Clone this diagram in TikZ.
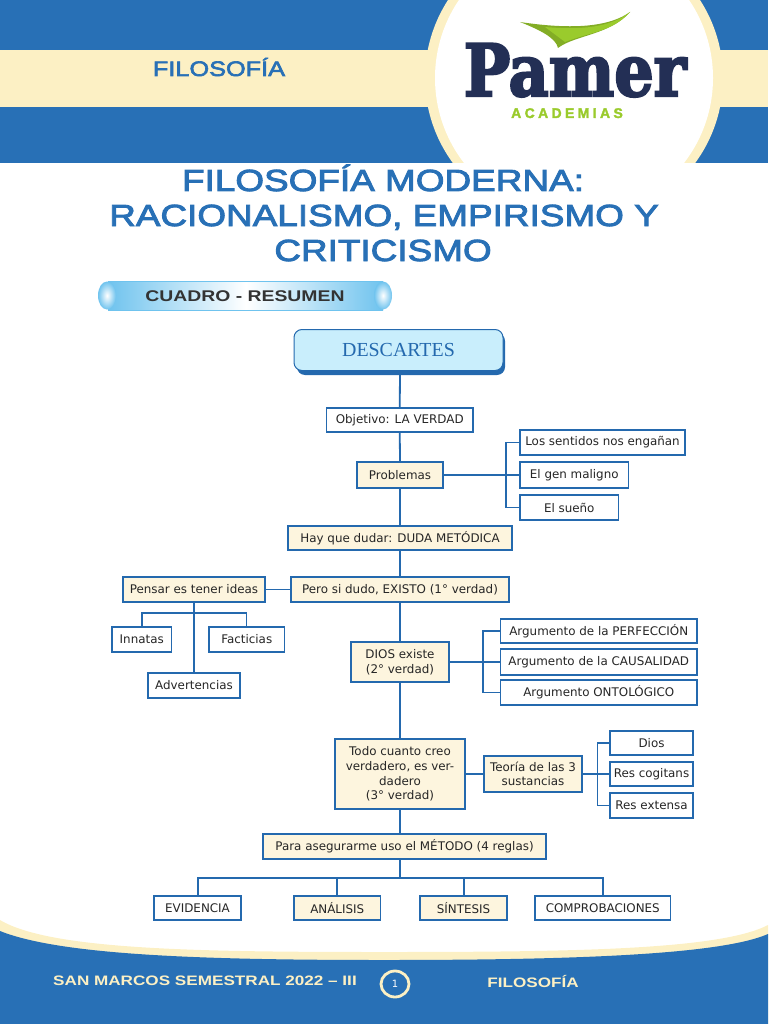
\documentclass[tikz,border=0pt]{standalone}
\usepackage{fontspec}
\setmainfont{DejaVu Sans}
\newfontfamily\titlefont[FakeStretch=1.21,FakeBold=3]{Liberation Sans}
\newfontfamily\footfont[FakeStretch=1.25]{Liberation Sans}
\newfontfamily\logofont[FakeStretch=0.86,FakeBold=3]{DejaVu Serif}
\newfontfamily\acadfont[LetterSpace=24,FakeBold=2]{Liberation Sans}
\newfontfamily\descfont{Liberation Serif}
\usetikzlibrary{calc,shapes.geometric}
\definecolor{pamerblue}{HTML}{2870B6}
\definecolor{pamercream}{HTML}{FCF0C4}
\definecolor{boxcream}{HTML}{FDF5DE}
\definecolor{boxline}{HTML}{2469AE}
\definecolor{skyfill}{HTML}{C9EEFC}
\definecolor{bannerblue}{HTML}{6FC3EE}
\definecolor{logonavy}{HTML}{232F55}
\definecolor{logogreen}{HTML}{9ACB2C}
\tikzset{
  whitebox/.style={draw=boxline,line width=1.7pt,fill=white,inner sep=0pt,font=\fontsize{11.9}{14.6}\selectfont,align=center,text=black!85},
  creambox/.style={whitebox,fill=boxcream},
  link/.style={draw=boxline,line width=1.8pt},
  thinlink/.style={draw=boxline,line width=1.2pt},
  titleline/.style={anchor=base,inner sep=0pt,font=\titlefont\fontsize{30.5}{34}\selectfont,text=pamerblue},
  footline/.style={font=\footfont\bfseries\fontsize{13.7}{14}\selectfont,text=pamercream}
}
% box from its corners: name, left, top, right, bottom, style, text
\newcommand{\boxat}[7]{\node[#6,minimum width=#4pt-#2pt,minimum height=#5pt-#3pt] (#1) at ({(#2+#4)/2},{(#3+#5)/2}) {#7};}
\begin{document}
\begin{tikzpicture}[x=1pt,y=-1pt]
\useasboundingbox (0,0) rectangle (768,1024);
% Header bands
\fill[pamerblue] (0,0) rectangle (768,163);
\fill[pamercream] (0,50) rectangle (768,107);
\begin{scope}
\clip (0,0) rectangle (768,163);
\fill[pamercream] (574,78) ellipse [x radius=149,y radius=146];
\fill[white] (574,78) ellipse [x radius=139,y radius=139];
\end{scope}
\node[font=\titlefont\fontsize{20.9}{21}\selectfont,text=pamerblue] (subject) at (219,67) {FILOSOFÍA};
% Logo
\fill[logogreen!85!black] (520,22) .. controls (560,28) and (605,30) .. (630,12) .. controls (610,35) and (575,35) .. (558,48) .. controls (556,38) and (540,30) .. (520,22) -- cycle;
\fill[logogreen] (545,27) .. controls (580,30) and (610,28) .. (630,12) .. controls (612,32) and (590,32) .. (565,42) -- cycle;
\node[anchor=base,font=\logofont\bfseries\fontsize{72}{72}\selectfont,text=logonavy,inner sep=0pt] (pamer) at (575,96) {Pamer};
\node[anchor=base,font=\acadfont\bfseries\fontsize{14}{15}\selectfont,text=logogreen,inner sep=0pt] (academias) at (567,118) {ACADEMIAS};
% Title
\node[titleline] (titleA) at (383,191) {FILOSOFÍA MODERNA:};
\node[titleline] (titleB) at (384,226) {RACIONALISMO, EMPIRISMO Y};
\node[titleline] (titleC) at (383,261) {CRITICISMO};
% Banner
\shade[left color=bannerblue,right color=white] (108,281) rectangle (246,310);
\shade[right color=bannerblue,left color=white] (246,281) rectangle (383,310);
\draw[bannerblue,line width=1pt] (108,281) -- (383,281) (108,310) -- (383,310);
\shade[inner color=white,outer color=bannerblue] (107,295.5) ellipse [x radius=9,y radius=14];
\shade[inner color=white,outer color=bannerblue] (383,295.5) ellipse [x radius=9,y radius=14];
\node[font=\footfont\bfseries\fontsize{15.5}{15}\selectfont,text=black!80] (banner) at (245,296) {CUADRO - RESUMEN};
% Boxes
\fill[boxline,rounded corners=8pt] (297,333) rectangle (505,375);
\node[draw=boxline,line width=1pt,fill=skyfill,rounded corners=8pt,minimum width=209pt,minimum height=41pt,font=\descfont\fontsize{19.9}{20}\selectfont,text=boxline] (desc) at (398.5,350) {DESCARTES};
\coordinate (objtop) at (400,408);
\coordinate (busP) at (506,475);
\coordinate (busD) at (483,662);
\coordinate (busS) at (597.5,774);
\coordinate (busI) at (194,613);
\coordinate (busM) at (400,878);
\coordinate (dropE) at (198,896);
\coordinate (dropS) at (464,896);
\boxat{obj}{326.5}{408}{473}{432}{whitebox}{Objetivo: LA VERDAD}
\boxat{prob}{357}{462}{443}{488}{creambox}{Problemas}
\boxat{los}{520}{430}{685}{455}{whitebox}{Los sentidos nos engañan}
\boxat{gen}{520}{462}{628.5}{488}{whitebox}{El gen maligno}
\boxat{sueno}{520}{495}{618.5}{520}{whitebox}{El sueño}
\boxat{duda}{288}{526}{512}{550}{creambox}{Hay que dudar: DUDA METÓDICA}
\boxat{pero}{291}{577}{509}{602}{creambox}{Pero si dudo, EXISTO (1° verdad)}
\boxat{pensar}{123}{577}{265}{602}{creambox}{Pensar es tener ideas}
\boxat{innatas}{112}{627}{171.5}{652}{whitebox}{Innatas}
\boxat{facticias}{209}{627}{284.5}{652}{whitebox}{Facticias}
\boxat{advert}{148}{673}{240}{698}{whitebox}{Advertencias}
\boxat{dios}{351}{642}{449}{682}{creambox}{DIOS existe\\(2° verdad)}
\boxat{argp}{500.5}{619}{697}{643}{whitebox}{Argumento de la PERFECCIÓN}
\boxat{argc}{500.5}{649}{697}{675}{whitebox}{Argumento de la CAUSALIDAD}
\boxat{argo}{500.5}{680}{697}{705}{whitebox}{Argumento ONTOLÓGICO}
\boxat{todo}{335}{739}{465}{809}{creambox}{Todo cuanto creo\\verdadero, es ver-\\dadero\\(3° verdad)}
\boxat{teoria}{484}{756}{582}{792}{creambox}{Teoría de las 3\\sustancias}
\boxat{sdios}{610}{731}{693}{755}{whitebox}{Dios}
\boxat{scog}{610}{762}{693}{786}{whitebox}{Res cogitans}
\boxat{sext}{610}{793}{693}{818}{whitebox}{Res extensa}
\boxat{para}{263}{834}{546}{859}{creambox}{Para asegurarme uso el MÉTODO (4 reglas)}
\boxat{evid}{154}{896}{241}{920}{whitebox}{EVIDENCIA}
\boxat{anal}{294}{896}{380.5}{920}{creambox}{ANÁLISIS}
\boxat{sint}{420}{896}{507}{920}{creambox}{SÍNTESIS}
\boxat{comp}{535}{896}{670.5}{920}{whitebox}{COMPROBACIONES}
% Connectors
\draw[link] (desc.south -| objtop) -- (obj.north);
\draw[link] (obj.south) -- (prob.north);
\draw[link] (prob.south) -- (duda.north);
\draw[link] (duda.south) -- (pero.north);
\draw[link] (pero.south) -- (dios.north);
\draw[link] (dios.south) -- (dios.south |- todo.north);
\draw[link] (todo.south) -- (todo.south |- para.north);
\draw[link] (prob.east) -- (busP);
\draw[link] (busP) |- (los.west);
\draw[link] (busP) -- (gen.west);
\draw[link] (busP) |- (sueno.west);
\draw[thinlink] (pensar.east) -- (pero.west);
\draw[link] (pensar.south) -- (advert.north);
\draw[link] (busI) -| (innatas.north);
\draw[thinlink] (busI) -| (facticias.north);
\draw[link] (dios.east) -- (busD);
\draw[link] (busD) |- (argp.west);
\draw[link] (busD) -- (argc.west);
\draw[link] (busD) |- (argo.west);
\draw[link] (todo.east |- teoria.west) -- (teoria.west);
\draw[link] (teoria.east) -- (busS);
\draw[thinlink] (busS) |- (sdios.west);
\draw[link] (busS) -- (scog.west);
\draw[thinlink] (busS) |- (sext.west);
\draw[link] (para.south -| busM) -- (busM);
\draw[link] (busM) -| (dropE);
\draw[link] (busM) -| (anal.north);
\draw[link] (busM) -| (dropS);
\draw[link] (busM) -| (comp.north);
% Footer
\fill[pamercream] (0,920) .. controls (50,950) and (200,952) .. (384,952) .. controls (570,952) and (720,950) .. (768,925) -- (768,1024) -- (0,1024) -- cycle;
\fill[pamerblue] (0,931) .. controls (60,955) and (200,960) .. (384,960) .. controls (570,960) and (720,955) .. (768,934) -- (768,1024) -- (0,1024) -- cycle;
\node[footline] (footA) at (205,981) {SAN MARCOS SEMESTRAL 2022 – III};
\node[draw=pamercream,line width=2.8pt,ellipse,minimum width=28pt,minimum height=26pt,inner sep=0pt,font=\fontsize{10}{10}\selectfont,text=white] (page) at (395,984) {1};
\node[footline] (footB) at (533,981) {FILOSOFÍA};
\end{tikzpicture}
\end{document}
